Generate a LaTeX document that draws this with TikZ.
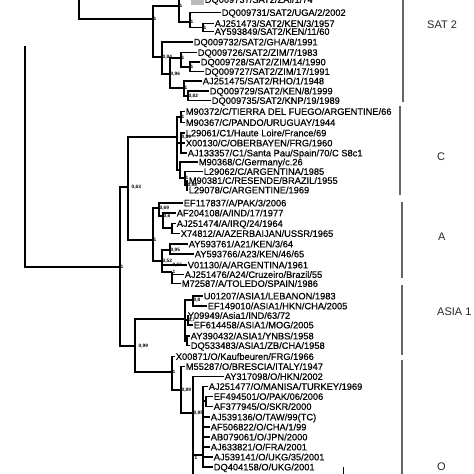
\documentclass[tikz,border=0pt]{standalone}
\usepackage{fontspec}
\setmainfont{Liberation Sans}
\newfontfamily\leaffont[FakeBold=0.5]{Liberation Sans}
\usetikzlibrary{positioning}

\begin{document}
\begin{tikzpicture}[
    x=1pt, y=-1pt,
    br/.style={line width=1.3pt},
    leaf/.style={anchor=west, inner sep=0pt, inner xsep=0.6pt,
                 font=\leaffont\fontsize{9.3}{10}\selectfont, text height=6.7pt, text depth=0pt},
    prob/.style={anchor=west, inner sep=0.5pt, font=\fontsize{4.8}{5}\selectfont\bfseries},
    bar/.style={line width=1.7pt, draw=black!60},
    clade/.style={anchor=west, inner sep=0pt, font=\fontsize{11}{12}\selectfont, text=black!85},
]
\useasboundingbox (0,0) rectangle (474,474);
\clip (0,0) rectangle (474,474);

% internal nodes
\coordinate (r) at (25,46);
\coordinate (n79) at (79,-10);
\coordinate (n153) at (153,19);
\coordinate (n179) at (179,6);
\coordinate (n190) at (190,22);
\coordinate (n203) at (203,27.5);
\coordinate (n162) at (162,57);
\coordinate (n170) at (170,74);
\coordinate (n181) at (181,58);
\coordinate (n190b) at (190,67);
\coordinate (n184) at (184,88);
\coordinate (n188) at (188,96);
\coordinate (n120) at (120,267);
\coordinate (n128) at (128,187);
\coordinate (nC) at (177,137);
\coordinate (nC1) at (181,117);
\coordinate (nC2) at (181,143);
\coordinate (nC3) at (180,170);
\coordinate (nC4) at (185,178);
\coordinate (nC5) at (187,185);
\coordinate (nA) at (153,240);
\coordinate (nA1) at (159,208);
\coordinate (nA2) at (163,216);
\coordinate (nA3) at (172,228);
\coordinate (nA4) at (162,261);
\coordinate (nA5) at (170,250);
\coordinate (nA7) at (172,272);
\coordinate (n135) at (135,346);
\coordinate (nI) at (185,319);
\coordinate (nI1) at (193,300);
\coordinate (nI2) at (188,320);
\coordinate (nI3) at (187,341);
\coordinate (nO) at (172,372);
\coordinate (nO1) at (181,390);
\coordinate (nO2) at (193,413);
\coordinate (nO3) at (203,455);
\coordinate (nO4) at (206,401);
\coordinate (nOx) at (240,485);

% SAT 2
\fill[gray!55] (191,0) rectangle (204,5);
\node[leaf] (s0) at (204,-0.5) {DQ009737/SAT2/ZAI/1/74};
\node[leaf] (s1) at (221,12.5) {DQ009731/SAT2/UGA/2/2002};
\node[leaf] (s2) at (214,23.5) {AJ251473/SAT2/KEN/3/1957};
\node[leaf] (s3) at (214,31.5) {AY593849/SAT2/KEN/11/60};
\node[leaf] (s4) at (193,42) {DQ009732/SAT2/GHA/8/1991};
\node[leaf] (s5) at (197,52.5) {DQ009726/SAT2/ZIM/7/1983};
\node[leaf] (s6) at (200,62) {DQ009728/SAT2/ZIM/14/1990};
\node[leaf] (s7) at (204,71.5) {DQ009727/SAT2/ZIM/17/1991};
\node[leaf] (s8) at (202,81) {AJ251475/SAT2/RHO/1/1948};
\node[leaf] (s9) at (209,91) {DQ009729/SAT2/KEN/8/1999};
\node[leaf] (s10) at (211,100.5) {DQ009735/SAT2/KNP/19/1989};

% C
\node[leaf] (c1) at (185,111.5) {M90372/C/TIERRA DEL FUEGO/ARGENTINE/66};
\node[leaf] (c2) at (185,122.5) {M90367/C/PANDO/URUGUAY/1944};
\node[leaf] (c3) at (185,133) {L29061/C1/Haute Loire/France/69};
\node[leaf] (c4) at (185,143) {X00130/C/OBERBAYEN/FRG/1960};
\node[leaf] (c5) at (187,153) {AJ133357/C1/Santa Pau/Spain/70/C S8c1};
\node[leaf] (c6) at (198,162) {M90368/C/Germany/c.26};
\node[leaf] (c7) at (203,171.5) {L29062/C/ARGENTINA/1985};
\node[leaf] (c8) at (188,180.5) {M90381/C/RESENDE/BRAZIL/1955};
\node[leaf] (c9) at (188,190) {L29078/C/ARGENTINE/1969};

% A
\node[leaf] (a1) at (183,203) {EF117837/A/PAK/3/2006};
\node[leaf] (a2) at (176,213) {AF204108/A/IND/17/1977};
\node[leaf] (a3) at (176,223.5) {AJ251474/A/IRQ/24/1964};
\node[leaf] (a4) at (180,233.5) {X74812/A/AZERBAIJAN/USSR/1965};
\node[leaf] (a5) at (188,244) {AY593761/A21/KEN/3/64};
\node[leaf] (a6) at (194,254) {AY593766/A23/KEN/46/65};
\node[leaf] (a7) at (187,265) {V01130/A/ARGENTINA/1961};
\node[leaf] (a8) at (184,274.5) {AJ251476/A24/Cruzeiro/Brazil/55};
\node[leaf] (a9) at (181,283.5) {M72587/A/TOLEDO/SPAIN/1986};

% ASIA 1
\node[leaf] (i1) at (203,296) {U01207/ASIA1/LEBANON/1983};
\node[leaf] (i2) at (207,306) {EF149010/ASIA1/HKN/CHA/2005};
\node[leaf] (i3) at (187,315.5) {Y09949/Asia1/IND/63/72};
\node[leaf] (i4) at (193,325) {EF614458/ASIA1/MOG/2005};
\node[leaf] (i5) at (190,336) {AY390432/ASIA1/YNBS/1958};
\node[leaf] (i6) at (190,345.5) {DQ533483/ASIA1/ZB/CHA/1958};

% O
\node[leaf] (o1) at (175,356.5) {X00871/O/Kaufbeuren/FRG/1966};
\node[leaf] (o2) at (185,366.5) {M55287/O/BRESCIA/ITALY/1947};
\node[leaf] (o3) at (224,376.5) {AY317098/O/HKN/2002};
\node[leaf] (o4) at (208,386.5) {AJ251477/O/MANISA/TURKEY/1969};
\node[leaf] (o5) at (213,396.5) {EF494501/O/PAK/06/2006};
\node[leaf] (o6) at (213,406.5) {AF377945/O/SKR/2000};
\node[leaf] (o7) at (210,417) {AJ539136/O/TAW/99(TC)};
\node[leaf] (o8) at (210,427) {AF506822/O/CHA/1/99};
\node[leaf] (o9) at (210,437) {AB079061/O/JPN/2000};
\node[leaf] (o10) at (210,447) {AJ633821/O/FRA/2001};
\node[leaf] (o11) at (213,457) {AJ539141/O/UKG/35/2001};
\node[leaf] (o12) at (213,467) {DQ404158/O/UKG/2001};

% branches
\draw[br] (r) |- (n120);
\draw[br] (n79) |- (n153);
\draw[br] (n153) |- (n179) (n153) |- (n162);
\draw[br] (n179) |- (s0.west) (n179) |- (n190);
\draw[br] (n190) |- (s1.west) (n190) |- (n203);
\draw[br] (n203) |- (s2.west) (n203) |- (s3.west);
\draw[br] (n162) |- (s4.west) (n162) |- (n170);
\draw[br] (n170) |- (n181) (n170) |- (n184);
\draw[br] (n181) |- (s5.west) (n181) |- (n190b);
\draw[br] (n190b) |- (s6.west) (n190b) |- (s7.west);
\draw[br] (n184) |- (s8.west) (n184) |- (n188);
\draw[br] (n188) |- (s9.west) (n188) |- (s10.west);

\draw[br] (n120) |- (n128) (n120) |- (n135);
\draw[br] (n128) |- (nC) (n128) |- (nA);
\draw[br] (nC) |- (nC1) (nC) |- (nC2) (nC) |- (nC3);
\draw[br] (nC1) |- (c1.west) (nC1) |- (c2.west);
\draw[br] (nC2) |- (c3.west) (nC2) |- (c4.west) (nC2) |- (c5.west);
\draw[br] (nC3) |- (c6.west) (nC3) |- (nC4);
\draw[br] (nC4) |- (c7.west) (nC4) |- (nC5);
\draw[br] (nC5) |- (c8.west) (nC5) |- (c9.west);

\draw[br] (nA) |- (nA1) (nA) |- (nA4);
\draw[br] (nA1) |- (a1.west) (nA1) |- (nA2);
\draw[br] (nA2) |- (a2.west) (nA2) |- (nA3);
\draw[br] (nA3) |- (a3.west) (nA3) |- (a4.west);
\draw[br] (nA4) |- (nA5) (nA4) |- (a7.west) (nA4) |- (nA7);
\draw[br] (nA5) |- (a5.west) (nA5) |- (a6.west);
\draw[br] (nA7) |- (a8.west) (nA7) |- (a9.west);

\draw[br] (n135) |- (nI) (n135) |- (nO);
\draw[br] (nI) |- (nI1) (nI) |- (nI2) (nI) |- (nI3);
\draw[br] (nI1) |- (i1.west) (nI1) |- (i2.west);
\draw[br] (nI2) |- (i3.west) (nI2) |- (i4.west);
\draw[br] (nI3) |- (i5.west) (nI3) |- (i6.west);

\draw[br] (nO) |- (o1.west) (nO) |- (nO1);
\draw[br] (nO1) |- (o2.west) (nO1) |- (nO2);
\draw[br] (nO2) |- (o3.west) (nO2) |- (nO3) (nO2) |- (nOx);
\draw[br] (nO3) |- (o4.west) (nO3) |- (nO4);
\draw[br] (nO4) |- (o5.west) (nO4) |- (o6.west);
\draw[br] (nO3) |- (o7.west) (nO3) |- (o8.west) (nO3) |- (o9.west);
\draw[br] (nO3) |- (o10.west) (nO3) |- (o11.west) (nO3) |- (o12.west);

% support values
\node[prob] (p153) at (n153) {1};
\node[prob] (p179) at (n179) {1};
\node[prob] (p190) at (n190) {1};
\node[prob] (p203) at (n203) {1};
\node[prob] (p162) at (n162) {0,84};
\node[prob] (p170) at (n170) {0,96};
\node[prob] (p181) at (n181) {1};
\node[prob] (p190b) at (n190b) {1};
\node[prob] (p184) at (n184) {1};
\node[prob] (p188) at (n188) {0,82};
\node[prob] (p120) at (n120) {1};
\node[prob] (p128) at ([xshift=3pt]n128) {0,63};
\node[prob] (pC1) at (nC1) {1};
\node[prob] (pC2) at ([yshift=6pt]nC2) {0,89};
\node[prob] (pC4) at (nC4) {1};
\node[prob] (pC5) at (nC5) {0,98};
\node[prob] (pA) at (nA) {1};
\node[prob] (pA1) at (nA1) {0,69};
\node[prob] (pA2) at (nA2) {0,6};
\node[prob] (pA4) at (nA4) {0,52};
\node[prob] (pA5) at (nA5) {0,95};
\node[prob] (pA7) at (nA7) {1};
\node[prob] (pA7b) at ([yshift=7pt]nA7) {0,56};
\node[prob] (p135) at ([xshift=3pt]n135) {0,99};
\node[prob] (pI1) at (nI1) {0,8};
\node[prob] (pI2) at (nI2) {0,7};
\node[prob] (pO) at (nO) {1};
\node[prob] (pO1) at (nO1) {0,89};
\node[prob] (pO2) at (nO2) {0,95};
\node[prob] (pO3) at ([xshift=-9pt,yshift=-3pt]nO3) {1};

% clade bars
\draw[bar] (403,0) -- (403,102);
\draw[bar] (400,106) -- (400,195);
\draw[bar] (402,202) -- (402,278);
\draw[bar] (402,285) -- (402,355);
\draw[bar] (402,360) -- (402,480);
\draw[line width=0.8pt] (343,467) -- (343,480);

\node[clade] (kSAT) at (427,25) {SAT 2};
\node[clade] (kC) at (437,157) {C};
\node[clade] (kA) at (438,237) {A};
\node[clade] (kAS) at (437,312) {ASIA 1};
\node[clade] (kO) at (437,467) {O};
\end{tikzpicture}
\end{document}
